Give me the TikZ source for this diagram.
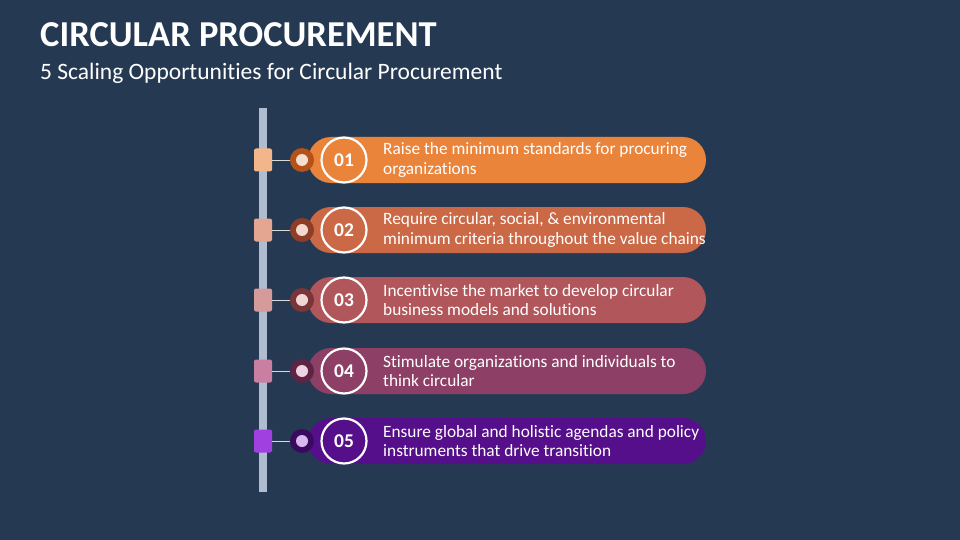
\documentclass[tikz,border=0pt]{standalone}
\usepackage{fontspec}
\setmainfont{Carlito}[Ligatures=NoCommon]
\definecolor{bgc}{HTML}{253A52}
\definecolor{barc}{HTML}{B0BCCF}
\begin{document}
\begin{tikzpicture}[x=1pt,y=-1pt,
 sq/.style={rounded corners=2pt,minimum width=18pt,minimum height=23pt,inner sep=0pt},
 pill/.style={rounded corners=23pt,minimum width=398pt,minimum height=46pt,inner sep=0pt},
 ring/.style={circle,draw=white,line width=2.2pt,minimum size=45pt,inner sep=0pt,text=white,font=\bfseries\fontsize{19.5}{19.5}\selectfont},
 dot/.style={circle,minimum size=24pt,inner sep=0pt},
 idot/.style={circle,minimum size=12pt,inner sep=0pt},
 txt/.style={anchor=west,text=white,align=left,font=\fontsize{17.3}{19.5}\selectfont}]
\fill[bgc] (0,0) rectangle (960,540);
\node[anchor=west,text=white,font=\bfseries\fontsize{36.5}{36}\selectfont,inner sep=0pt] (title) at (40,35) {CIRCULAR PROCUREMENT};
\node[anchor=west,text=white,font=\fontsize{23.5}{23}\selectfont,inner sep=0pt] (sub) at (40,73) {5 Scaling Opportunities for Circular Procurement};
\fill[barc] (259,108) rectangle (267,492);
\foreach \i/\y/\pc/\sc/\dc/\ic/\t in {
 01/160/EA843B/F3B68A/B5521A/F5DDD0/{Raise the minimum standards for procuring\\organizations},
 02/230/CB6845/E4A690/8E3E27/F3D9D0/{Require circular, social, \& environmental\\minimum criteria throughout the value chains},
 03/300/B1565A/D59A9A/7A3538/F2D6D6/{Incentivise the market to develop circular\\business models and solutions},
 04/371/8E3F66/C97EA2/5E2443/EED4E2/{Stimulate organizations and individuals to\\think circular},
 05/441/560F8A/A040E0/3A0A5E/D9B8F0/{Ensure global and holistic agendas and policy\\instruments that drive transition}}{
 \definecolor{pc}{HTML}{\pc}\definecolor{sc}{HTML}{\sc}\definecolor{dc}{HTML}{\dc}\definecolor{ic}{HTML}{\ic}
 \node[pill,fill=pc] (p\i) at (507,\y) {};
 \node[ring] (r\i) at (344,\y) {\i};
 \node[dot,fill=dc] (d\i) at (302,\y) {};
 \node[idot,fill=ic] (c\i) at (302,\y) {};
 \node[sq,fill=sc] (s\i) at (263,\y) {};
 \draw[white!70!gray,line width=0.8pt] (s\i.east) -- (d\i.west);
 \node[txt,inner sep=0pt] (t\i) at (383,\y) {\t};
}
\end{tikzpicture}
\end{document}
